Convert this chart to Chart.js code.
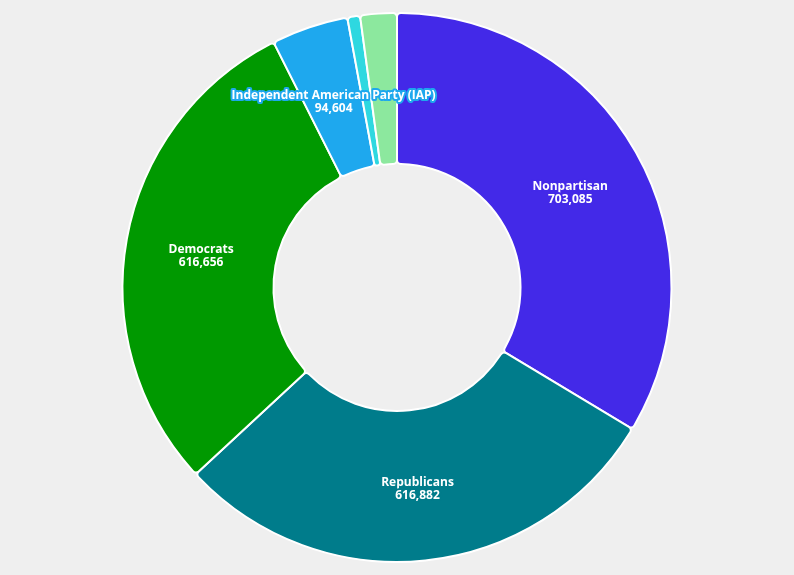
<!DOCTYPE html>
<html>
<head>
<meta charset="utf-8">
<script src="https://cdn.jsdelivr.net/npm/chart.js@4"></script>
<style>
    html, body { margin: 0; padding: 0; background: #efefef; }
    #wrap { width: 794px; height: 575px; }
</style>
</head>
<body>
<div id="wrap"><canvas id="myChart"></canvas></div>
<script>
const labels = ['Nonpartisan', 'Republicans', 'Democrats', 'Independent American Party (IAP)', 'Libertarian', 'Other'];
const voters = [703085, 616882, 616656, 94604, 15600, 45000];
const colors = ['#4329e8', '#007c8b', '#009900', '#1ea8ee', '#2ed8e0', '#8ce89e'];

// 조각 가운데에 이름 + 숫자 표시 (작은 조각은 생략)
const sliceLabels = {
    id: 'sliceLabels',
    afterDatasetsDraw(chart) {
        const ctx = chart.ctx;
        const meta = chart.getDatasetMeta(0);
        ctx.save();
        ctx.font = 'bold 12px "Open Sans"';
        ctx.textAlign = 'center';
        ctx.textBaseline = 'middle';
        ctx.lineJoin = 'round';
        meta.data.forEach((arc, i) => {
            if (voters[i] < 50000) return;
            const p = arc.tooltipPosition();
            const lines = [labels[i], voters[i].toLocaleString('en-US')];
            lines.forEach((t, k) => {
                const y = p.y - 3 + k * 13;
                ctx.lineWidth = 4;
                ctx.strokeStyle = colors[i];
                ctx.strokeText(t, p.x, y);
                ctx.fillStyle = '#ffffff';
                ctx.fillText(t, p.x, y);
            });
        });
        ctx.restore();
    }
};

new Chart(document.getElementById('myChart'), {
    type: 'doughnut',
    data: {
        labels: labels,
        datasets: [{
            data: voters,
            backgroundColor: colors,
            borderColor: '#ffffff',
            borderWidth: 2,
            borderRadius: 4
        }]
    },
    options: {
        responsive: true,
        maintainAspectRatio: false,
        animation: false,
        cutout: '45%',
        layout: { padding: 12 },
        plugins: {
            legend: { display: false },
            tooltip: { enabled: false }
        }
    },
    plugins: [sliceLabels]
});
</script>
</body>
</html>
